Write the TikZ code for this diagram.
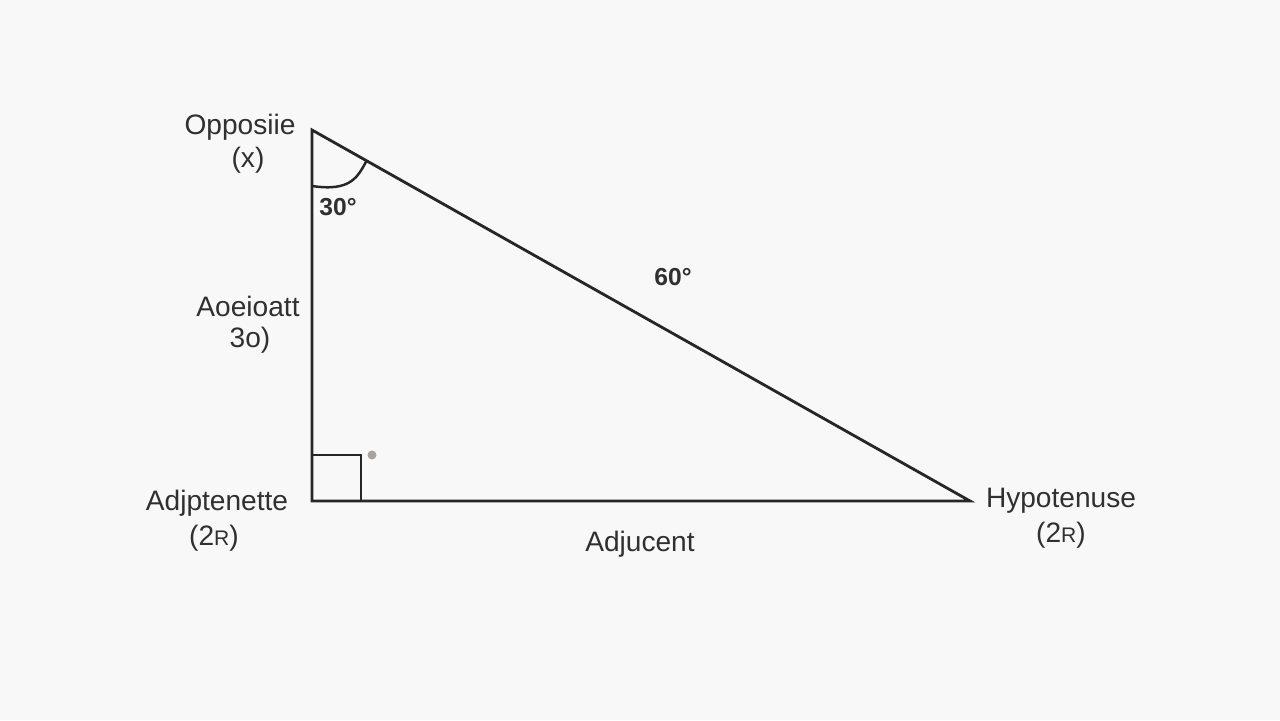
\documentclass[tikz,border=0pt]{standalone}
\usepackage{fontspec}
\setmainfont{Liberation Sans}
\definecolor{bgpaper}{HTML}{F8F8F8}
\definecolor{inkline}{HTML}{262626}
\definecolor{inktext}{HTML}{303030}
\definecolor{dotgray}{HTML}{A8A49C}
\newcommand{\smallR}{{\fontsize{12}{12}\selectfont R}}
\tikzset{
  side/.style={draw=inkline, line width=1.6pt, line join=miter},
  lbl/.style={text=inktext, font=\fontsize{16}{18}\selectfont, inner sep=0pt, align=center},
  anglbl/.style={text=inktext, font=\fontsize{14}{16}\selectfont\bfseries, inner sep=0pt}
}
\begin{document}
\begin{tikzpicture}[x=0.02cm, y=-0.02cm]
\useasboundingbox[fill=bgpaper] (0,0) rectangle (1280,720);
% corners
\coordinate (top) at (312,130);
\coordinate (corner) at (312,501);
\coordinate (tip) at (970,501);
% triangle
\draw[side] (top) -- (corner) -- (tip) -- cycle;
% right angle mark
\draw[side, line width=1.4pt] (312,455) -- (361,455) -- (361,501);
\fill[dotgray] (372,455) circle (4.5);
% angle at the top
\draw[side, line width=1.4pt] (312,186) .. controls (352,192) and (358,176) .. (367,160);
\node[anglbl] (angtop) at (338,207) {30°};
\node[anglbl] (anghyp) at (673,277) {60°};
% labels
\node[lbl] (opp) at (240,127) {Opposiie};
\node[lbl] (oppx) at (248,160) {(x)};
\node[lbl] (mid) at (248,306) {Aoeioatt};
\node[lbl] (midv) at (250,340) {3o)};
\node[lbl] (adjl) at (217,503) {Adjptenette};
\node[lbl] (adjlv) at (214,538) {(2\smallR)};
\node[lbl] (hyp) at (1061,501) {Hypotenuse};
\node[lbl] (hypv) at (1061,535) {(2\smallR)};
\node[lbl] (adj) at (640,544) {Adjucent};
\end{tikzpicture}
\end{document}
